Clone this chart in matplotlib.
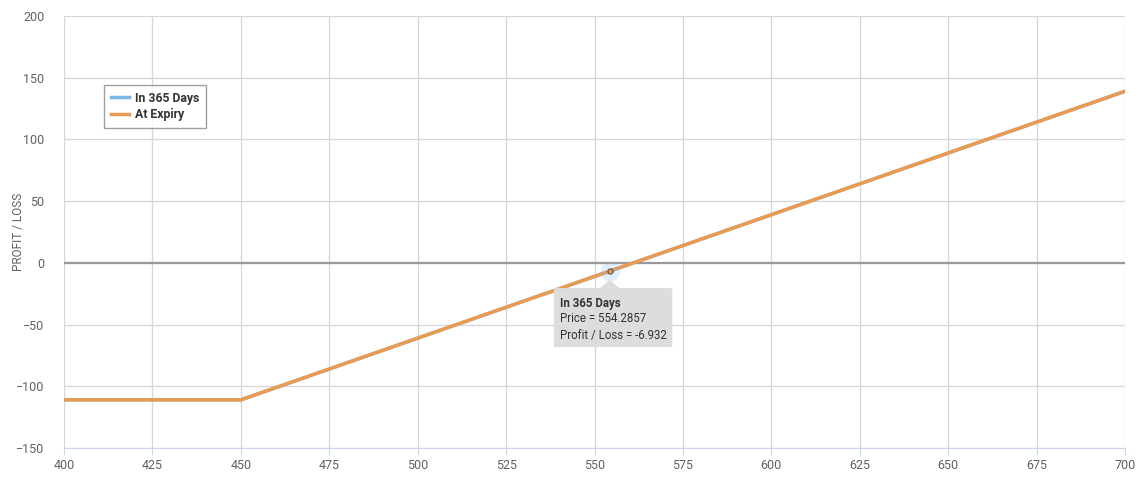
import matplotlib.pyplot as plt
from matplotlib.patches import FancyBboxPatch, Polygon
import numpy as np

price = [400, 450, 700]
at_expiry = [-111, -111, 139]
in_365_days = [-111, -111, 139]
hover_price = 554.2857
hover_pl = -6.932

plt.rcParams['font.family'] = ['Roboto', 'DejaVu Sans']

fig = plt.figure(figsize=(11.37, 4.78), dpi=100)
ax = fig.add_axes([64/1137, 30/478, 1061/1137, 432/478])

ax.plot(price, in_365_days, color='#7cb5ec', lw=2.5, zorder=3, label='In 365 Days')
ax.plot(price, at_expiry, color='#eb9b4f', lw=2.5, zorder=4, label='At Expiry')
ax.axhline(0, color='#999999', lw=1.6, zorder=2)

ax.set_xlim(400, 700)
ax.set_ylim(-150, 200)
ax.set_xticks(np.arange(400, 701, 25))
ax.set_yticks(np.arange(-150, 201, 50))
ax.grid(True, color='#d6d6d6', lw=0.9, zorder=0)
for s in ['top', 'right', 'left']:
    ax.spines[s].set_visible(False)
ax.spines['bottom'].set_color('#ccd6eb')
ax.tick_params(axis='y', length=0, pad=14, labelsize=9, labelcolor='#606060')
ax.tick_params(axis='x', length=5, color='#ccd6eb', pad=3, labelsize=9, labelcolor='#606060')
ax.set_ylabel('PROFIT / LOSS', color='#606060', fontsize=8.5)
ax.yaxis.set_label_coords(-0.037, 0.5)

# hover marker + tooltip
ax.scatter([hover_price], [hover_pl], s=200, color='#7cb5ec', alpha=0.22, zorder=5, lw=0)
ax.scatter([hover_price], [hover_pl], s=14, facecolor='#eb9b4f', edgecolor='#555555', lw=0.8, zorder=6)
ax.text(540.3, -27.3, 'In 365 Days', fontsize=8.3, fontweight='bold', color='#333333', va='top', zorder=8)
ax.text(540.3, -40.0, 'Price = ' + str(hover_price) + '\nProfit / Loss = ' + str(hover_pl),
        fontsize=8.3, color='#333333', va='top', linespacing=1.4, zorder=8)
box = FancyBboxPatch((538.5, -68.2), 33.5, 47.8, boxstyle='round,pad=0,rounding_size=0.6',
                     fc='#dcdcdc', ec='none', alpha=0.95, zorder=7, mutation_aspect=1.2)
ax.add_patch(box)
ax.add_patch(Polygon([[551.5, -20.4], [554.3, -14.0], [557.1, -20.4]], closed=True,
                     fc='#dcdcdc', ec='none', alpha=0.95, zorder=7))

leg = ax.legend(loc='upper left', bbox_to_anchor=(40/1061, 1 - 69/432), frameon=True,
                fancybox=False, edgecolor='#888888', fontsize=8.8, handlelength=1.5,
                borderpad=0.55, labelspacing=0.25, handletextpad=0.5, borderaxespad=0)
leg.get_frame().set_linewidth(1)
for t in leg.get_texts():
    t.set_fontweight('bold')
    t.set_color('#333333')

fig.savefig('out.png', dpi=100)
